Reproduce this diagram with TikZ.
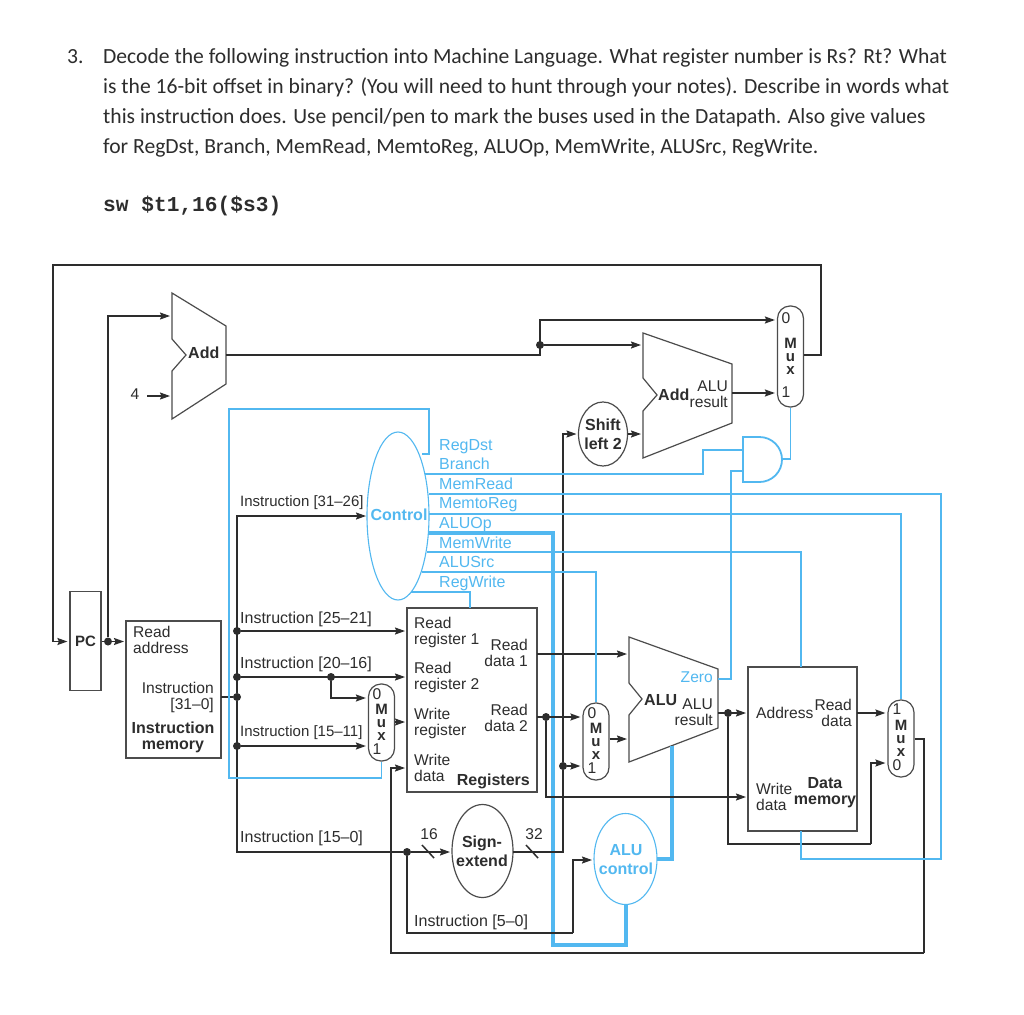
\documentclass[tikz,border=0pt]{standalone}
\usepackage{fontspec}
\setmainfont{Carlito}
\newfontfamily\hv{Liberation Sans}
\newfontfamily\mn{Liberation Mono}
\usetikzlibrary{arrows.meta}
\definecolor{ctl}{RGB}{82,184,240}
\definecolor{ink}{RGB}{45,45,45}
\tikzset{
  txt/.style={font=\hv\fontsize{15.6}{16}\selectfont,text=ink,inner sep=0pt,yshift=6.2pt},
  lbl/.style={txt,anchor=north west,align=left},
  lblr/.style={txt,anchor=north east,align=right},
  lblc/.style={txt,anchor=north,align=center},
  ins/.style={font=\hv\fontsize{16}{16}\selectfont},
  insn/.style={font=\hv\fontsize{15}{16}\selectfont},
  bf/.style={font=\hv\bfseries\fontsize{16}{16}\selectfont},
  bfl/.style={font=\hv\bfseries\fontsize{16}{19}\selectfont},
  blu/.style={text=ctl},
  box/.style={draw=ink!85,line width=1.2pt},
  mux/.style={box,rounded corners=12.5pt,minimum width=26pt,inner sep=0pt,align=center,text=ink,
    font=\hv\bfseries\fontsize{15}{13}\selectfont},
  wire/.style={draw=ink,line width=1.5pt},
  arr/.style={wire,-{Stealth[length=10pt,width=7pt,inset=1.5pt]},shorten >=2pt},
  cw/.style={draw=ctl,line width=1.8pt},
  cwt/.style={draw=ctl,line width=3.4pt},
  dot/.style={circle,fill=ink,inner sep=0pt,minimum size=8pt},
  que/.style={inner sep=0pt,anchor=north west,align=left,font=\fontsize{21.6}{30}\selectfont,text=ink},
}
\begin{document}
\begin{tikzpicture}[x=1pt,y=-1pt]
\fill[white] (0,0) rectangle (1024,1014);
\useasboundingbox (0,0) rectangle (1024,1014);

% question text
\node[que] (qn) at (67,49) {3.};
\node[que] (qt) at (103,48)
 {Decode the following instruction into Machine Language. What register number is Rs? Rt? What\\
  is the 16-bit offset in binary? (You will need to hunt through your notes). Describe in words what\\
  this instruction does. Use pencil/pen to mark the buses used in the Datapath. Also give values\\
  for RegDst, Branch, MemRead, MemtoReg, ALUOp, MemWrite, ALUSrc, RegWrite.};
\node[inner sep=0pt,anchor=base west,font=\mn\bfseries\fontsize{21.2}{24}\selectfont,text=ink] (sw) at (103,211) {sw \$t1,16(\$s3)};

% PC, memories, registers
\node[box,minimum width=31pt,minimum height=99pt,inner sep=0pt,font=\hv\bfseries\fontsize{15}{16}\selectfont,text=ink] (pc) at (85.5,641) {PC};
\draw[box] (126,621) rectangle (221,758);
\coordinate (imin) at (126,641.5);
\coordinate (imout) at (221,697);
\draw[box] (407,608) rectangle (537,792);
\coordinate (rfout1) at (537,654);
\coordinate (rfout2) at (537,717);
\draw[box] (748,667) rectangle (857,831);
\coordinate (dmtop) at (801,667);
\coordinate (dmbot) at (801,831);
\coordinate (dmout) at (857,713);

% adders and ALU
\draw[box] (172,293) -- (226,326) -- (226,384) -- (172,419) -- (172,371) -- (186,355) -- (172,339) -- cycle;
\draw[box] (643,333) -- (732,364) -- (732,423) -- (643,458) -- (643,411) -- (657,395) -- (643,378) -- cycle;
\draw[box] (629,637) -- (718,669) -- (718,728) -- (629,762) -- (629,715) -- (642,699) -- (629,683) -- cycle;
\coordinate (addo) at (226,355);
\coordinate (broo) at (732,393);
\coordinate (aluo) at (718,713);
\coordinate (zero) at (718,679);
\coordinate (aluc) at (672,746);

% muxes
\node[mux,minimum height=101pt] (m1) at (790.5,356.5) {M\\u\\x};
\node[mux,minimum height=77pt] (m2) at (381.5,722.5) {M\\u\\x};
\node[mux,minimum height=77pt] (m3) at (596,741.5) {M\\u\\x};
\node[mux,minimum height=77pt] (m4) at (901,738.5) {M\\u\\x};

% ellipses
\draw[box] (603,434) ellipse [x radius=24.5,y radius=32];
\draw[box] (482.5,851) ellipse [x radius=30.5,y radius=46.5];
\draw[draw=ctl,line width=1.1pt] (398,516) ellipse [x radius=31,y radius=84];
\draw[draw=ctl,line width=1.1pt] (625.5,859) ellipse [x radius=31.5,y radius=45.5];
\coordinate (ctop) at (626,904);

% AND gate
\draw[cw] (743,437) -- (759.5,437) arc (-90:90:22.5) -- (743,482) -- cycle;

% dots
\node[dot] (d1) at (108,641.5) {};
\node[dot] (d2) at (237,631) {};
\node[dot] (d3) at (237,677) {};
\node[dot] (d4) at (331,677) {};
\node[dot] (d5) at (237,697) {};
\node[dot] (d6) at (237,746) {};
\node[dot] (d7) at (407,852) {};
\node[dot] (d8) at (546,717) {};
\node[dot] (d9) at (563,766) {};
\node[dot] (d10) at (540,345) {};
\node[dot] (d11) at (728,713) {};

% thick control
\draw[cwt] (429,533) -| (553,945) -| (ctop);
\draw[cwt] (657,859) -| (aluc);

% datapath wires
\draw[arr] (m1.east |- addo) -| (821,265) -| (53,641.5) -- (pc.west |- d1);
\draw[wire] (pc.east |- d1) -- (d1);
\draw[arr] (d1) -- (imin);
\draw[arr] (d1) |- (172,316);
\coordinate (four) at (147,396);
\draw[arr] (four) -- (172,396);
\draw[wire] (addo) -- (540,355) -- (d10);
\draw[arr] (540,355) |- (m1.west |- 0,320);
\draw[arr] (d10) -- (643,345);
\draw[arr] (broo) -- (m1.west |- broo);
\draw[arr] (627.5,434) -- (643,434);

\draw[wire] (imout) -- (d5);
\draw[arr] (d5) |- (368,516);
\draw[wire] (d5) |- (d7);
\draw[arr] (d2) -- (407,631);
\draw[arr] (d3) -- (407,677);
\draw[arr] (d4) |- (m2.west |- 0,698);
\draw[arr] (d6) -- (m2.west |- d6);
\draw[arr] (m2.east |- 0,722) -- (407,722);
\draw[arr] (d7) -- (452,852);
\draw[wire] (513,852) -| (d9);
\draw[arr] (d9) |- (578.5,434);
\draw[arr] (d9) -- (m3.west |- d9);
\draw[wire] (d7) |- (573,933);
\draw[arr] (573,933) |- (594,860);
\draw[wire] (422,845) -- (434,858);
\draw[wire] (526,845) -- (538,858);
\draw[arr] (rfout1) -- (629,654);
\draw[arr] (rfout2) -- (m3.west |- rfout2);
\draw[arr] (d8) |- (748,797);
\draw[arr] (m3.east |- 0,739) -- (629,739);
\draw[arr] (aluo) -- (748,713);
\draw[wire] (d11) |- (871,844);
\draw[arr] (871,844) |- (m4.west |- 0,763);
\draw[arr] (dmout) -- (m4.west |- dmout);
\draw[wire] (m4.east |- 0,739) -| (924,953);
\draw[arr] (924,953) -| (391,768) -- (407,768);

% control wires
\draw[cw] (422,454) -| (429,409) -| (229,778) -| (m2.south);
\draw[cw] (425,474) -| (703,450) -- (743,450);
\draw[cw] (429,494) -| (941,859) -| (dmbot);
\draw[cw] (429,514) -| (m4.north);
\draw[cw] (427,552) -| (dmtop);
\draw[cw] (422,572) -| (m3.north);
\draw[cw] (411,592) -| (470,608);
\draw[cw] (zero) -| (731,471) -- (743,471);
\draw[cw] (782,459) -| (m1.south);

% labels
\node[lbl,bf] (tadd) at (188,353) {Add};
\node[lblc] (t4) at (135,395) {4};
\node[lbl,bf] (tbr) at (658,395) {Add};
\node[lblr] (tbr2) at (728,387) {ALU\\result};
\node[lblc,bfl] (tsl) at (603,425) {Shift\\left 2};
\node[lblc,bf,blu] (tctl) at (399,515) {Control};
\node[lbl,blu,font=\hv\fontsize{16}{19.6}\selectfont] (tsig) at (439,445) {RegDst\\Branch\\MemRead\\MemtoReg\\ALUOp\\MemWrite\\ALUSrc\\RegWrite};

\node[lbl] (tr1) at (133,632) {Read\\address};
\node[lblr] (tr2) at (214,688) {Instruction\\{[31–0]}};
\node[lblc,bf] (tim) at (173,728) {Instruction\\memory};

\node[lbl,insn] (ti1) at (240,502) {Instruction [31–26]};
\node[lbl,ins] (ti2) at (240,618) {Instruction [25–21]};
\node[lbl,ins] (ti3) at (240,663) {Instruction [20–16]};
\node[lbl,insn] (ti4) at (240,732) {Instruction [15–11]};
\node[lbl,ins] (ti5) at (240,837) {Instruction [15–0]};
\node[lbl,ins] (ti6) at (414,921) {Instruction [5–0]};

\node[lbl] (rr1) at (414,623) {Read\\register 1};
\node[lbl] (rr2) at (414,668) {Read\\register 2};
\node[lbl] (wr) at (414,714) {Write\\register};
\node[lbl] (wd) at (414,760) {Write\\data};
\node[lblr] (rd1) at (528,645) {Read\\data 1};
\node[lblr] (rd2) at (528,710) {Read\\data 2};
\node[lblr,bf] (treg) at (530,780) {Registers};

\node[lblc] (t16) at (429,835) {16};
\node[lblc] (t32) at (534,835) {32};
\node[lblc,bfl] (tse) at (482,842) {Sign-\\extend};
\node[lblc,bfl,blu] (tac) at (626,850) {ALU\\control};

\node[lbl,bf] (talu) at (644,700) {ALU};
\node[lblr,blu] (tz) at (713,678) {Zero};
\node[lblr] (talu2) at (713,705) {ALU\\result};

\node[lbl] (tad) at (756,713) {Address};
\node[lblr] (trd) at (852,705) {Read\\data};
\node[lbl] (twd) at (756,789) {Write\\data};
\node[lblc,bf] (tdm) at (825,783) {Data\\memory};

\node[lblc] (m10) at (786,319) {0};
\node[lblc] (m11) at (786,393) {1};
\node[lblc] (m20) at (377,695) {0};
\node[lblc] (m21) at (377,750) {1};
\node[lblc] (m30) at (592,714) {0};
\node[lblc] (m31) at (592,769) {1};
\node[lblc] (m41) at (897,710) {1};
\node[lblc] (m40) at (897,766) {0};
\end{tikzpicture}
\end{document}
